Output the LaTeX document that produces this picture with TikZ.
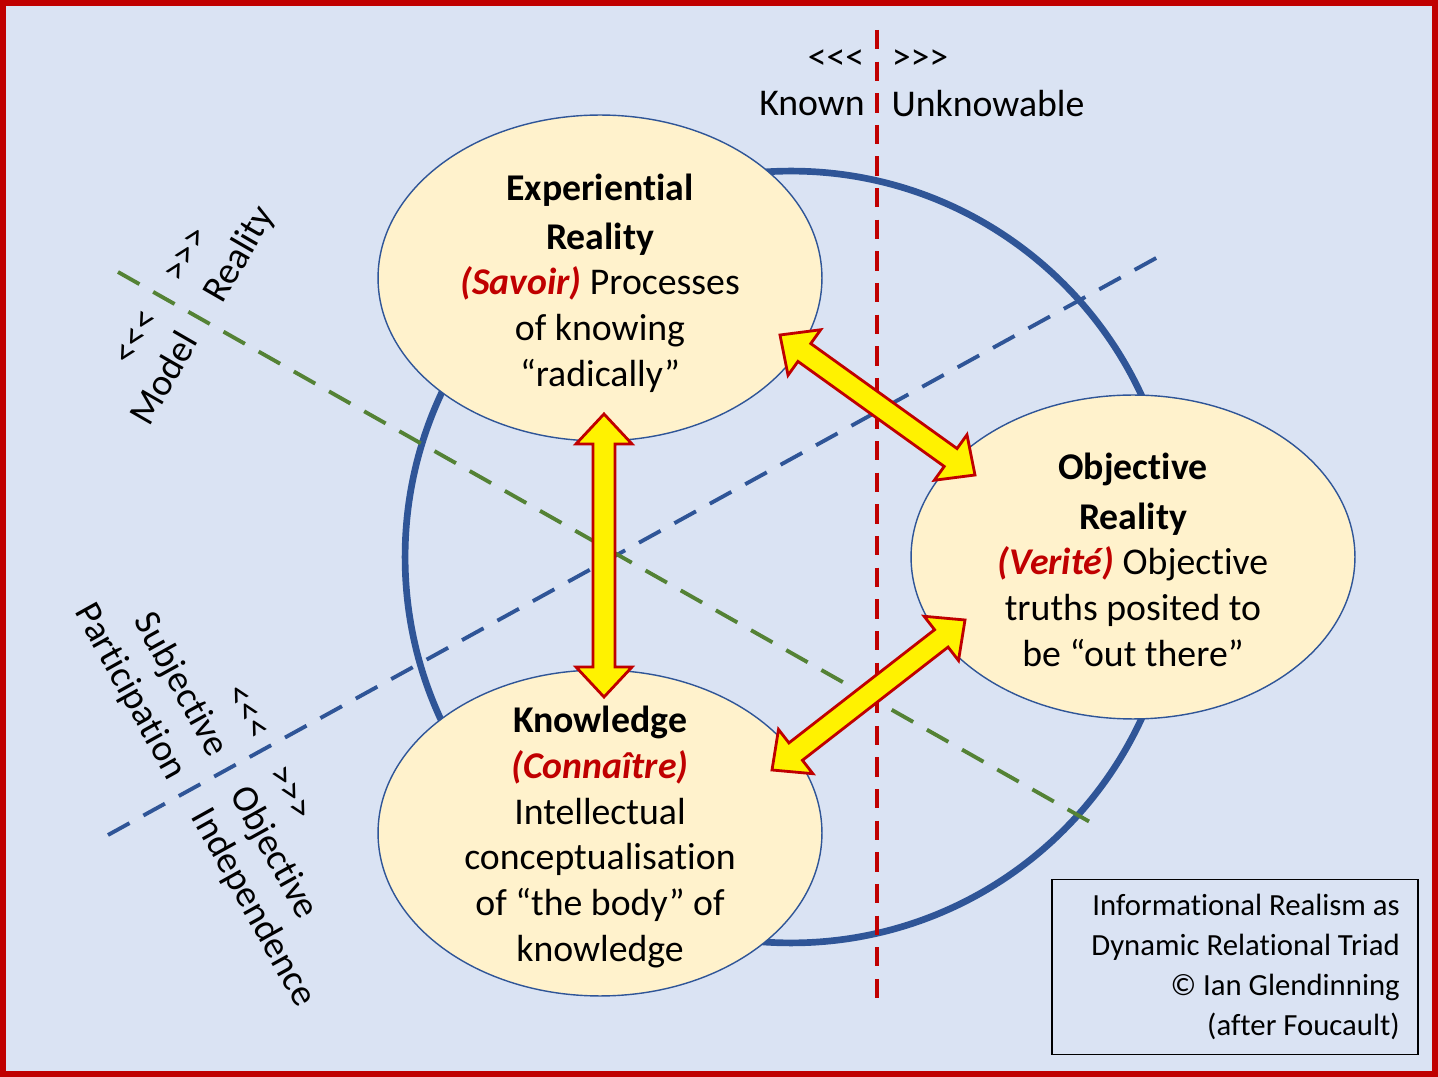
\documentclass[tikz,border=0pt]{standalone}
\usepackage{fontspec}
\setmainfont{Carlito}[Ligatures={TeX,NoCommon}]
\usetikzlibrary{calc,shapes.geometric}
\definecolor{bg}{HTML}{DAE3F3}
\definecolor{dred}{HTML}{C00000}
\definecolor{dblue}{HTML}{2F5597}
\definecolor{cream}{HTML}{FFF2CC}
\definecolor{dgreen}{HTML}{548235}
\tikzset{
 ell/.style={ellipse,draw=dblue,line width=0.8pt,fill=cream},
 lbl/.style={font=\fontsize{21.5}{26}\selectfont,align=center},
 dbar/.style={draw=dred,line width=1.6pt,fill=yellow,line join=miter}
}
\newcommand{\lll}{{<}{<}{<}}
\newcommand{\ggg}{{>}{>}{>}}
\newcommand{\dblarrow}[2]{%
 \path[dbar] let \p1=(#1),\p2=(#2),\n1={atan2(\y2-\y1,\x2-\x1)},\n2={veclen(\x2-\x1,\y2-\y1)} in
 [shift={(\p1)},rotate=\n1] (0cm,0cm) -- (0.6cm,0.56cm) -- (0.6cm,0.22cm) -- (\n2-0.6cm,0.22cm) -- (\n2-0.6cm,0.56cm) -- (\n2,0cm) -- (\n2-0.6cm,-0.56cm) -- (\n2-0.6cm,-0.22cm) -- (0.6cm,-0.22cm) -- (0.6cm,-0.56cm) -- cycle;}
\begin{document}
\begin{tikzpicture}[x=0.02cm,y=-0.02cm]
\useasboundingbox (0,0) rectangle (1438,1077);
\fill[bg] (0,0) rectangle (1438,1077);
\draw[dred,line width=3.4pt] (3,3) rectangle (1435,1074);
\draw[dblue,line width=3.8pt] (791,557) circle[radius=7.72cm];
\draw[dblue,line width=2.2pt,dash pattern=on 14pt off 9pt] (108,835) -- (1158,257);
\draw[dgreen,line width=2.2pt,dash pattern=on 14pt off 9pt] (118,272) -- (1090,822);
\draw[dred,line width=2.2pt,dash pattern=on 11pt off 7pt] (877,30) -- (877,1005);
\node[ell,minimum width=8.88cm,minimum height=6.52cm] (er) at (600,278) {};
\node[ell,minimum width=8.88cm,minimum height=6.48cm] (or) at (1133,557) {};
\node[ell,minimum width=8.88cm,minimum height=6.52cm] (kn) at (600,833) {};
\node[lbl] (ert) at (600,283) {\textbf{Experiential}\\[2pt]\textbf{Reality}\\{\color{dred}\textbf{\textit{(Savoir)}}} Processes\\of knowing\\“radically”};
\node[lbl] (ort) at (1133,560) {\textbf{Objective}\\[2pt]\textbf{Reality}\\{\color{dred}\textbf{\textit{(Verité)}}} Objective\\truths posited to\\be “out there”};
\node[lbl] (knt) at (600,837) {\textbf{Knowledge}\\{\color{dred}\textbf{\textit{(Connaître)}}}\\Intellectual\\conceptualisation\\of “the body” of\\knowledge};
\coordinate (a1) at (604,414); \coordinate (a2) at (604,697);
\coordinate (b1) at (780,335); \coordinate (b2) at (975,475);
\coordinate (c1) at (965,620); \coordinate (c2) at (772,770);
\dblarrow{a1}{a2}
\dblarrow{b1}{b2}
\dblarrow{c1}{c2}
\node[lbl] (l1) at (836,60) {\lll};
\node[lbl] (l2) at (920,60) {\ggg};
\node[lbl] (l3) at (812,104) {Known};
\node[lbl] (l4) at (988,104) {Unknowable};
\node[lbl,rotate=60] (m1) at (240,255) {Reality};
\node[lbl,rotate=60] (m2) at (187,255) {\ggg};
\node[lbl,rotate=60] (m3) at (137,338) {\lll};
\node[lbl,rotate=60] (m4) at (163,378) {Model};
\node[lbl,rotate=-61] (s1) at (180,685) {Subjective};
\node[lbl,rotate=-61] (s2) at (130,692) {Participation};
\node[lbl,rotate=-61] (s3) at (247,712) {\lll};
\node[lbl,rotate=-61] (s4) at (290,793) {\ggg};
\node[lbl,rotate=-61] (s5) at (273,853) {Objective};
\node[lbl,rotate=-61] (s6) at (253,908) {Independence};
\node[draw=black,line width=1pt,minimum width=7.32cm,minimum height=3.5cm] (box) at (1235,967) {};
\node[align=right,font=\fontsize{17.5}{22.7}\selectfont,anchor=east] (bt) at (1406,967) {Informational Realism as\\Dynamic Relational Triad\\© Ian Glendinning\\(after Foucault)};
\end{tikzpicture}
\end{document}
